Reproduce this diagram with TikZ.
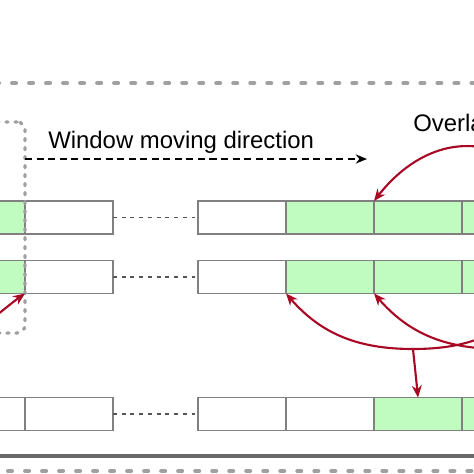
\documentclass[tikz,border=0pt]{standalone}
\usepackage{fontspec}
\setmainfont{Liberation Sans}
\usetikzlibrary{arrows.meta,positioning}
\definecolor{cellgray}{RGB}{128,128,128}
\definecolor{hitgreen}{RGB}{192,252,192}
\definecolor{arrowred}{RGB}{168,8,36}
\definecolor{framegray}{RGB}{160,160,160}
\definecolor{rulegray}{RGB}{105,105,105}
\definecolor{gapgray}{RGB}{85,85,85}

\begin{document}
\begin{tikzpicture}[x=0.025cm,y=0.025cm,
          cell/.style={draw=cellgray,line width=1.4pt,fill=white,
                       minimum width=2.2cm,minimum height=0.825cm,
                       inner sep=0pt,outer sep=0pt},
          hit/.style={cell,fill=hitgreen},
          gap/.style={draw=gapgray,line width=1.1pt,dash pattern=on 2.8pt off 3.4pt},
          bigframe/.style={draw=framegray,line width=2.8pt,line cap=round,
                           dash pattern=on 2.9pt off 9.2pt},
          win/.style={draw=framegray,line width=2.4pt,line cap=round,
                      dash pattern=on 1.4pt off 5pt,rounded corners=0.2cm,
                      inner sep=0pt,outer sep=0pt},
          move/.style={black,line width=1.3pt,dash pattern=on 5pt off 3.2pt,
                       -{Stealth[length=8pt,width=6.5pt]}},
          link/.style={arrowred,line width=1.5pt,-{Stealth[length=8.5pt,width=7pt]}},
          lbl/.style={font=\fontsize{17}{20}\selectfont,inner sep=0pt}]
        \useasboundingbox (0,0) rectangle (474,-474);
        \clip (0,0) rectangle (474,-474);
        % outer frame
        \coordinate (ftl) at (-5,-83);
        \coordinate (ftr) at (480,-83);
        \draw[bigframe] (ftl) -- (ftr);
        % row 1
        \node[hit] (l1a) at (-19,-217.5) {};
        \node[cell,right=0pt of l1a] (l1b) {};
        \node[cell] (r1a) at (242,-217.5) {};
        \node[hit,right=0pt of r1a] (r1b) {};
        \node[hit,right=0pt of r1b] (r1c) {};
        \node[hit,right=0pt of r1c] (r1d) {};
        % row 2
        \node[hit] (l2a) at (-19,-277) {};
        \node[cell,right=0pt of l2a] (l2b) {};
        \node[cell] (r2a) at (242,-277) {};
        \node[hit,right=0pt of r2a] (r2b) {};
        \node[hit,right=0pt of r2b] (r2c) {};
        \node[hit,right=0pt of r2c] (r2d) {};
        % row 3
        \node[cell] (l3a) at (-19,-414) {};
        \node[cell,right=0pt of l3a] (l3b) {};
        \node[cell] (r3a) at (242,-414) {};
        \node[cell,right=0pt of r3a] (r3b) {};
        \node[hit,right=0pt of r3b] (r3c) {};
        \node[hit,right=0pt of r3c] (r3d) {};
        % skipped cells
        \draw[gap] (l1b) -- (r1a);
        \draw[gap] (l2b) -- (r2a);
        \draw[gap] (l3b) -- (r3a);
        % window
        \node[win,minimum width=2.5cm,minimum height=5.275cm] (window) at (-25,-227.5) {};
        \coordinate (mvs) at (25,-159);
        \coordinate (mve) at (367,-159);
        \draw[move] (mvs) -- (mve);
        \node[lbl,anchor=base west] (dirtxt) at (48,-148) {Window moving direction};
        \node[lbl,anchor=base west] (ovtxt) at (413,-131) {Overlap};
        % overlap arrows
        \coordinate (ovs) at (500,-152);
        \draw[link] (ovs) to[out=160,in=52] (r1c.north west);
        \coordinate (lfs) at (-20,-326);
        \draw[link] (lfs) to[out=30,in=215] (l2a.south east);
        \coordinate (sa) at (539,-295);
        \coordinate (ma) at (413,-349);
        \draw[link] (sa) to[out=229,in=0] (ma) to[out=180,in=-49] (r2b.south west);
        \coordinate (sb) at (627,-295);
        \coordinate (mb) at (501,-349);
        \draw[link] (sb) to[out=229,in=0] (mb) to[out=180,in=-49] (r2c.south west);
        \draw[link] (ma) -- (r3c.north);
        % bottom
        \coordinate (bl) at (-5,-456);
        \coordinate (br) at (480,-456);
        \draw[rulegray,line width=2.5pt] (bl) -- (br);
        \coordinate (dl) at (8,-471);
        \coordinate (dr) at (480,-471);
        \draw[bigframe] (dl) -- (dr);
\end{tikzpicture}
\end{document}
